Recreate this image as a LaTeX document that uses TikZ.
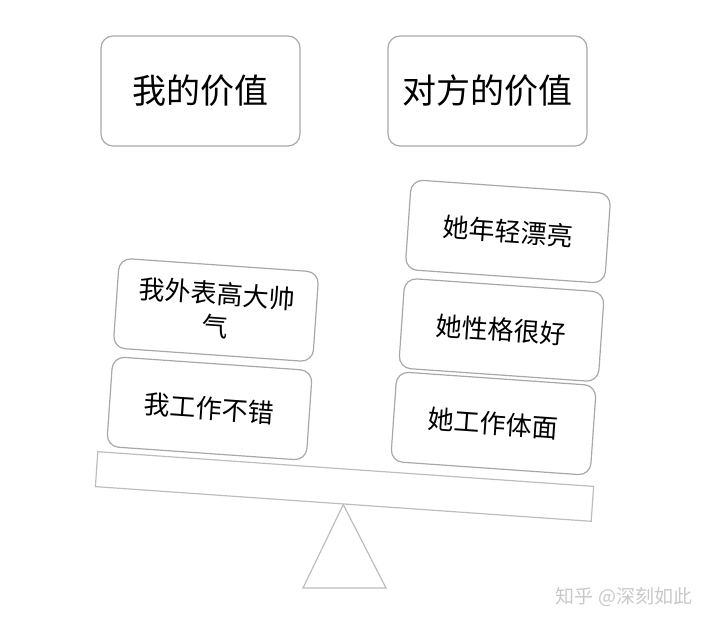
\documentclass[tikz,border=0pt]{standalone}
\usepackage{fontspec}
\setmainfont{Noto Sans CJK SC}
\definecolor{boxgray}{HTML}{A8A8A8}
\definecolor{beamgray}{HTML}{BDBDBD}
\definecolor{markgray}{HTML}{C8C8C8}

\begin{document}
\begin{tikzpicture}[x=1pt, y=-1pt,
  valuebox/.style={draw=boxgray, line width=1.2pt, rounded corners=12pt, minimum width=199pt, minimum height=110pt, inner sep=0pt, font=\fontsize{34}{40}\selectfont},
  itembox/.style={draw=boxgray, line width=1.2pt, rounded corners=12pt, minimum width=200pt, minimum height=90pt, inner sep=0pt, rotate=-4, align=center, font=\fontsize{26}{33}\selectfont}]
\useasboundingbox (0,0) rectangle (720,629);
\node[valuebox] (mine) at (200.5,91) {我的价值};
\node[valuebox] (theirs) at (487.5,91) {对方的价值};
\node[itembox] (looks) at (216,310) {我外表高大帅\\气};
\node[itembox] (myjob) at (209.5,408.5) {我工作不错};
\node[itembox] (young) at (508,231.5) {她年轻漂亮};
\node[itembox] (nature) at (501.5,330) {她性格很好};
\node[itembox] (herjob) at (493.5,423.5) {她工作体面};
\node[draw=beamgray, line width=1.2pt, rotate=-4, minimum width=497pt, minimum height=35pt, inner sep=0pt] (beam) at (344.5,486.5) {};
\coordinate (baseL) at (303,588);
\coordinate (baseR) at (386,588);
\draw[beamgray, line width=1.2pt] (beam.south) -- (baseR) -- (baseL) -- cycle;
\node[text=markgray, font=\fontsize{19}{22}\selectfont] (mark) at (624,597) {知乎 @深刻如此};
\end{tikzpicture}
\end{document}
